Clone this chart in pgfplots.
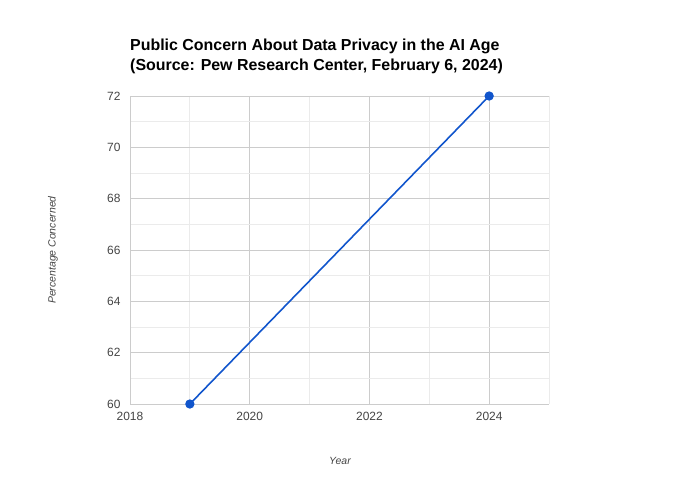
\documentclass[border=0pt]{standalone}
\usepackage{pgfplots}
\pgfplotsset{compat=1.18}
\usepackage{fontspec}
\setmainfont{Liberation Sans}
\definecolor{lineblue}{RGB}{17,85,204}
\definecolor{tickgray}{RGB}{68,68,68}
\definecolor{majgrid}{RGB}{204,204,204}
\definecolor{mingrid}{RGB}{235,235,235}
\begin{document}
\begin{tikzpicture}[x=1bp,y=1bp]
\path[use as bounding box] (0,0) rectangle (680,-500);
\begin{axis}[
  at={(130bp,-404bp)}, anchor=south west,
  scale only axis, width=419bp, height=308bp,
  xmin=2018, xmax=2025, ymin=60, ymax=72,
  xtick={2018,2020,2022,2024}, minor xtick={2019,2021,2023,2025},
  ytick={60,62,...,72}, minor ytick={61,63,...,71},
  grid=both,
  major grid style={majgrid, line width=0.8pt},
  minor grid style={mingrid, line width=0.8pt},
  axis line style={majgrid, line width=0.8pt},
  axis lines*=left,
  tick style={draw=none},
  x tick label style={font=\fontsize{12}{14}\selectfont, text=tickgray, yshift=-5bp},
  y tick label style={font=\fontsize{12}{14}\selectfont, text=tickgray, xshift=-6bp},
  /pgf/number format/assume math mode=true,
  xticklabel={\pgfmathprintnumber[1000 sep={},fixed]{\tick}},
  yticklabel={\pgfmathprintnumber[fixed]{\tick}},
  clip=false,
]
\addplot[lineblue, line width=1.6pt, mark=*, mark size=3.8bp, mark options={fill=lineblue, draw=lineblue}] coordinates {(2019,60) (2024,72)};
\end{axis}
\node[anchor=west, font=\bfseries\fontsize{16}{19}\selectfont, align=left, inner sep=0pt] at (130,-56) {Public Concern About Data Privacy in the AI Age\\[1pt](Source: Pew Research Center, February 6, 2024)};
\node[rotate=90, font=\itshape\fontsize{10.5}{12}\selectfont, text=tickgray] at (53,-250) {Percentage Concerned};
\node[font=\itshape\fontsize{10.5}{12}\selectfont, text=tickgray] at (340,-461) {Year};
\end{tikzpicture}
\end{document}
